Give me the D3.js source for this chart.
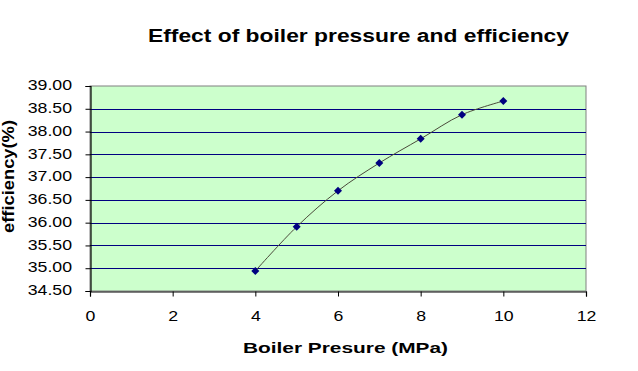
<!DOCTYPE html>
<html>
<head>
<meta charset="utf-8">
<script src="https://cdn.jsdelivr.net/npm/d3@7"></script>
<style>
  body { margin: 0; background: #fff; }
  text { font-family: "Liberation Sans", Arial, sans-serif; }
</style>
</head>
<body>
<div id="chart"></div>
<script>
// data
const pressure = [4, 5, 6, 7, 8, 9, 10];
const efficiency = [34.94, 35.91, 36.70, 37.31, 37.84, 38.37, 38.67];
const xTicks = [0, 2, 4, 6, 8, 10, 12];
const yTicks = [34.5, 35, 35.5, 36, 36.5, 37, 37.5, 38, 38.5, 39];

// set-up
const W = 638, H = 371;
const plot = {left: 90, top: 86, right: 586, bottom: 291};
const stretch = 1.18; // the glyphs in the original are a bit wide

const x = d3.scaleLinear().domain([0, 12]).range([plot.left, plot.right]);
const y = d3.scaleLinear().domain([34.5, 39]).range([plot.bottom, plot.top]);

const svg = d3.select("#chart").append("svg")
    .attr("width", W)
    .attr("height", H);

// plot background + border
svg.append("rect")
    .attr("x", plot.left).attr("y", plot.top)
    .attr("width", plot.right - plot.left).attr("height", plot.bottom - plot.top)
    .attr("fill", "#ccffcc")
    .attr("stroke", "#808080")
    .attr("stroke-width", 1);

// gridlines
svg.append("g")
  .selectAll("line")
  .data(yTicks.slice(1, -1))
  .enter().append("line")
    .attr("x1", plot.left).attr("x2", plot.right)
    .attr("y1", d => Math.round(y(d)) + 0.5).attr("y2", d => Math.round(y(d)) + 0.5)
    .attr("stroke", "#000080")
    .attr("stroke-width", 1.2);

// axes
const yAxis = svg.append("g")
    .attr("transform", "translate(" + (plot.left + 0.5) + ",0)")
    .call(d3.axisLeft(y).tickValues(yTicks).tickFormat(d3.format(".2f")).tickSize(5));

const xAxis = svg.append("g")
    .attr("transform", "translate(0," + (plot.bottom + 0.5) + ")")
    .call(d3.axisBottom(x).tickValues(xTicks).tickSize(5));

[yAxis, xAxis].forEach(function(a) {
  a.select(".domain").attr("stroke", "#000").attr("stroke-width", 1.2);
  a.selectAll(".tick line").attr("stroke", "#000");
  a.selectAll("text")
    .attr("fill", "#000")
    .style("font-size", "15px")
    .style("font-family", "'Liberation Sans', Arial, sans-serif");
});

yAxis.selectAll("text")
    .attr("x", 0)
    .attr("dy", "0.25em")
    .attr("transform", "translate(-18.5,0) scale(" + stretch + ",1)");

xAxis.selectAll("text")
    .attr("y", 29.5)
    .attr("dy", 0)
    .attr("transform", "scale(" + stretch + ",1)");

// the line
const line = d3.line()
    .x((d, i) => x(pressure[i]))
    .y(d => y(d))
    .curve(d3.curveCatmullRom);

svg.append("path")
    .datum(efficiency)
    .attr("fill", "none")
    .attr("stroke", "#4a4a3a")
    .attr("stroke-width", 1)
    .attr("d", line);

// markers
svg.append("g")
  .selectAll("path")
  .data(efficiency)
  .enter().append("path")
    .attr("transform", (d, i) => "translate(" + x(pressure[i]) + "," + y(d) + ")")
    .attr("d", "M0,-4L4,0L0,4L-4,0Z")
    .attr("fill", "#000080");

// titles
svg.append("text")
    .attr("x", 358.5).attr("y", 42)
    .attr("text-anchor", "middle")
    .attr("textLength", 421)
    .attr("lengthAdjust", "spacingAndGlyphs")
    .style("font-size", "17.5px")
    .style("font-weight", "bold")
    .text("Effect of boiler pressure and efficiency");

svg.append("text")
    .attr("x", 345.5).attr("y", 353)
    .attr("text-anchor", "middle")
    .attr("textLength", 205)
    .attr("lengthAdjust", "spacingAndGlyphs")
    .style("font-size", "14px")
    .style("font-weight", "bold")
    .text("Boiler Presure (MPa)");

svg.append("text")
    .attr("transform", "translate(14,176.5) scale(1.25,1) rotate(-90)")
    .attr("text-anchor", "middle")
    .attr("textLength", 113)
    .attr("lengthAdjust", "spacingAndGlyphs")
    .style("font-size", "13.5px")
    .style("font-weight", "bold")
    .text("efficiency(%)");
</script>
</body>
</html>
